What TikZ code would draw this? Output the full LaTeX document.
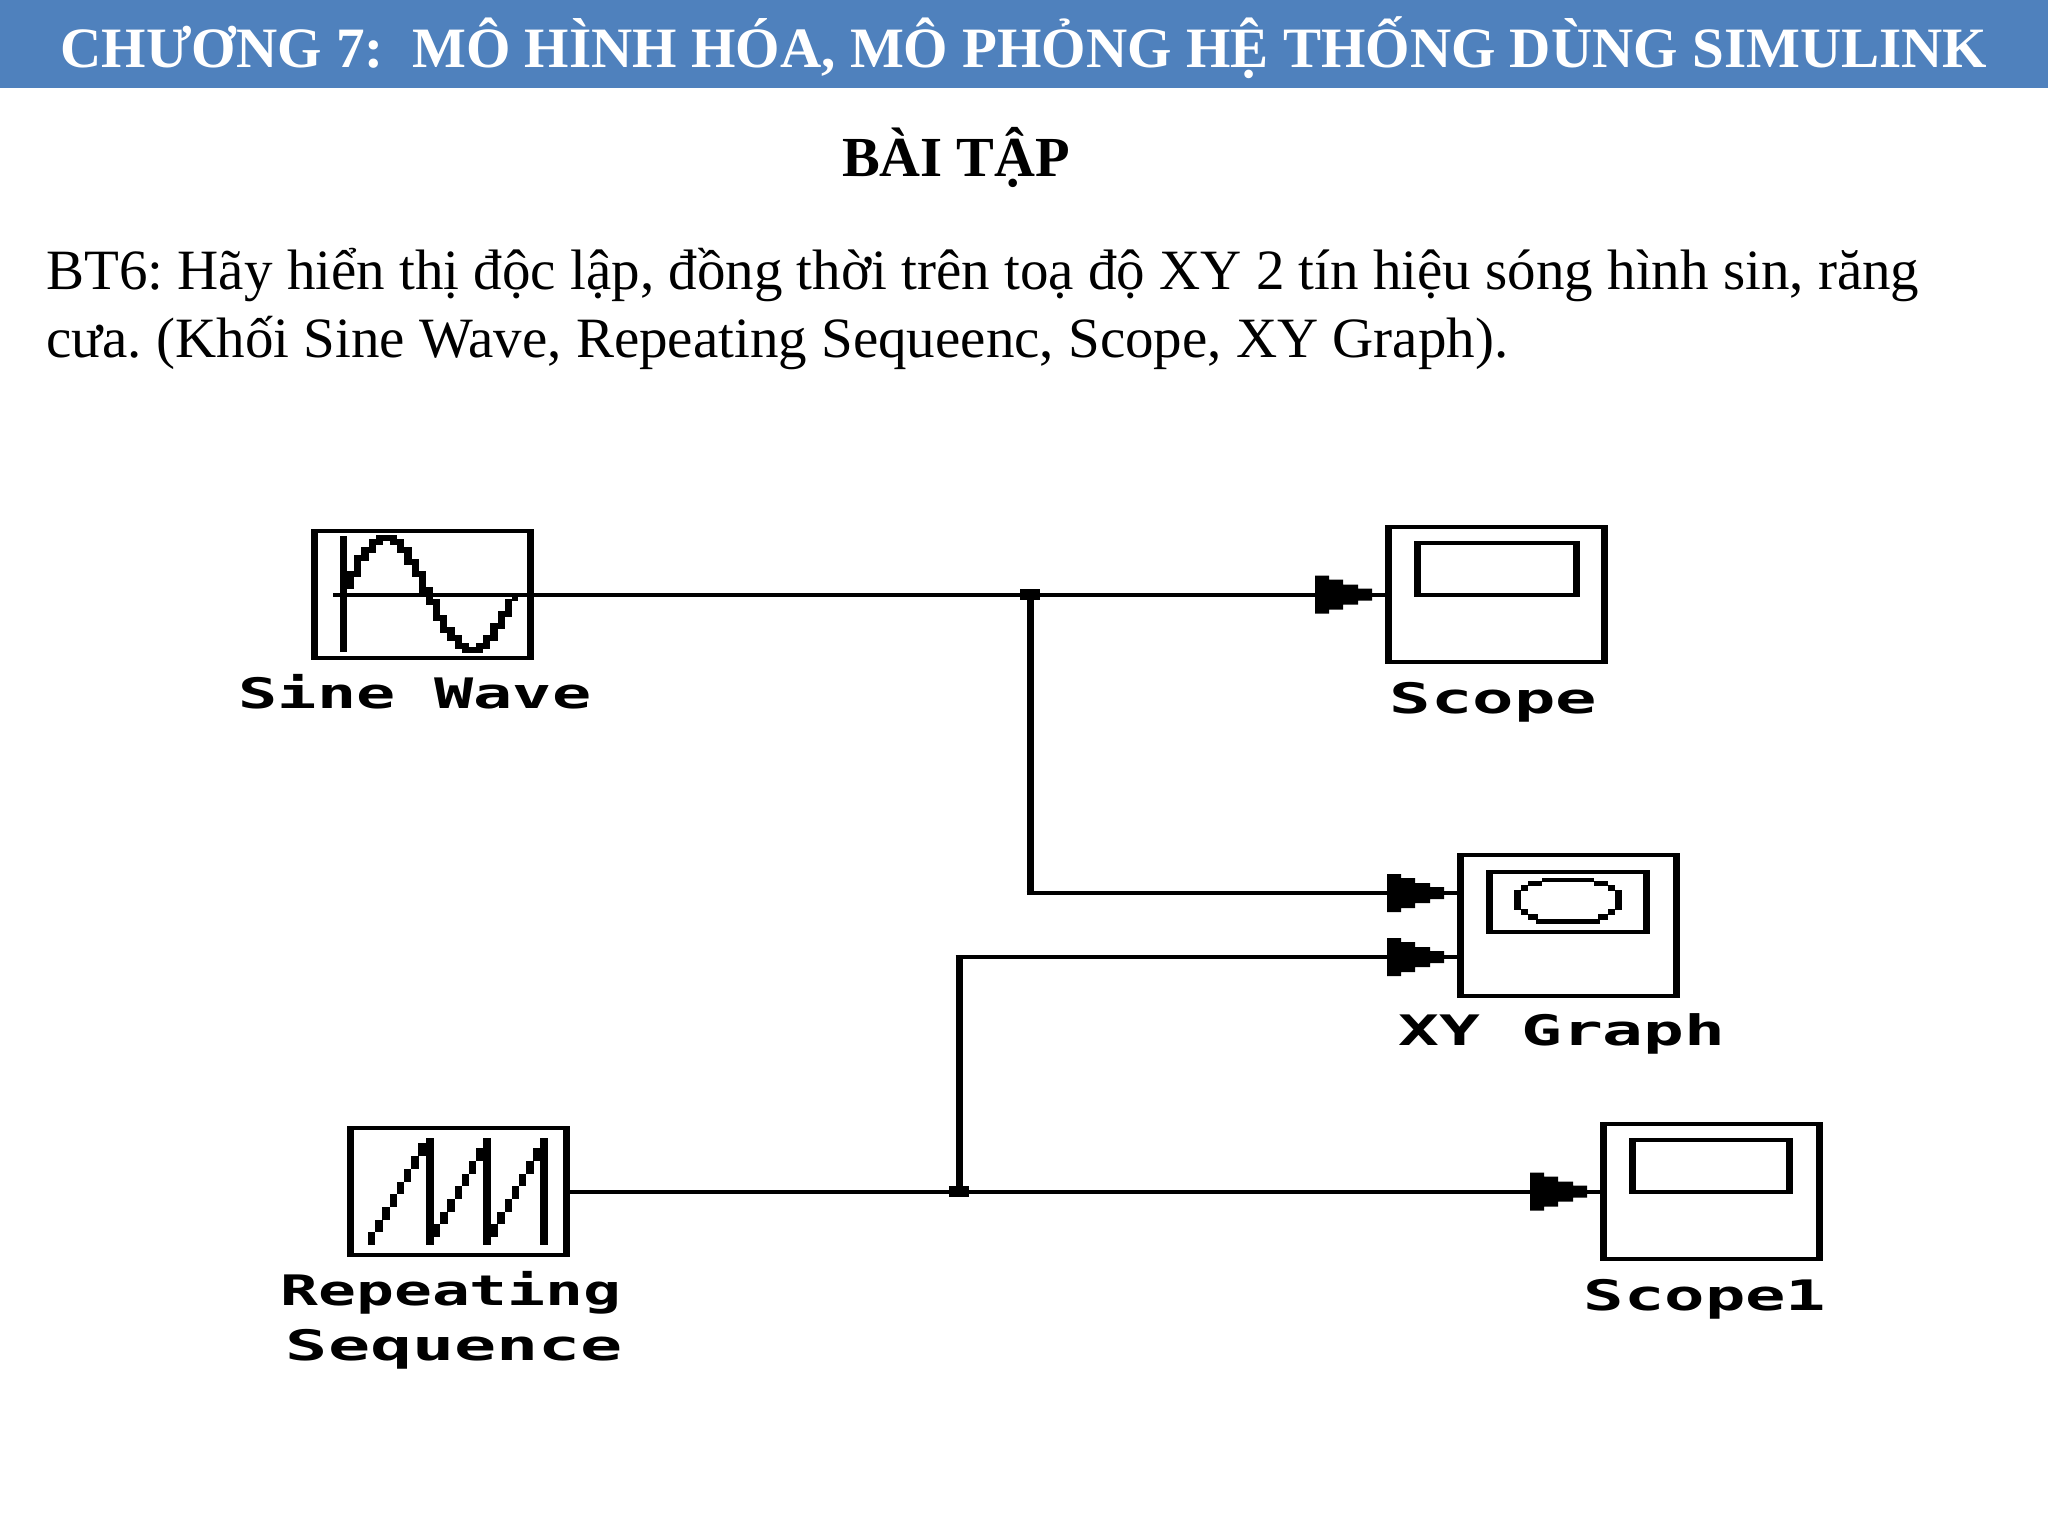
\documentclass[tikz,border=0pt]{standalone}
\usepackage{fontspec}
\setmainfont{Liberation Serif}
\newfontfamily\pixfont{DejaVu Sans Mono}
\tikzset{
  x=0.5pt,y=-0.5pt,
  blockouter/.style={fill=black,inner sep=0pt,outer sep=0pt,draw=none},
  blocklabel/.style={font=\pixfont\fontsize{21}{21}\selectfont\bfseries,xscale=#1,transform shape,anchor=base,inner sep=0pt,align=center},
  wire/.style={line width=2pt,black},
  fatwire/.style={line width=3.5pt,black},
  junction/.style={fill=black,inner sep=0pt,outer sep=0pt,minimum width=10pt,minimum height=5.5pt},
  stairhead/.pic={
    \fill[black] (-72,-19) -- (-58,-19) -- (-58,-15) -- (-44,-15) -- (-44,-10) -- (-29,-10) -- (-29,-6) -- (-15,-6)
      -- (-15,6) -- (-29,6) -- (-29,10) -- (-44,10) -- (-44,15) -- (-58,15) -- (-58,19) -- (-72,19) -- cycle;
  },
}
% block: name, x1,y1,x2,y2 in reference pixels
\newcommand{\blk}[5]{%
  \pgfmathsetmacro{\bw}{(#4-#2)/2}\pgfmathsetmacro{\bh}{(#5-#3)/2}%
  \node[blockouter,minimum width=\bw pt,minimum height=\bh pt] (#1) at ({(#2+#4)/2},{(#3+#5)/2}) {};
  \fill[white] ({#2+7},{#3+4}) rectangle ({#4-7},{#5-4});
}
% screen inside a scope
\newcommand{\scr}[4]{%
  \fill[black] (#1,#2) rectangle (#3,#4);
  \fill[white] ({#1+7},{#2+4}) rectangle ({#3-7},{#4-4});
}
\newcommand{\rx}[4]{\fill[black] (#1,#2) rectangle (#3,#4);}
\begin{document}
\frenchspacing
\begin{tikzpicture}
\useasboundingbox (0,0) rectangle (2048,1536);
\fill[white] (0,0) rectangle (2048,1536);
% header
\fill[fill={rgb,255:red,79;green,129;blue,189}] (0,0) rectangle (2048,88);
\node[anchor=base,text=white,inner sep=0pt,font=\fontsize{28.55}{28.55}\selectfont\bfseries] (title) at (1024,67.5) {CHƯƠNG 7:\ \ MÔ HÌNH HÓA, MÔ PHỎNG HỆ THỐNG DÙNG SIMULINK};
\node[anchor=base,inner sep=0pt,font=\fontsize{28.3}{28.3}\selectfont\bfseries] (sub) at (956,176.5) {BÀI TẬP};
\node[anchor=base west,inner sep=0pt,font=\fontsize{28.5}{28.5}\selectfont] (l1) at (46,289) {BT6: Hãy hiển thị độc lập, đồng thời trên toạ độ XY 2 tín hiệu sóng hình sin, răng};
\node[anchor=base west,inner sep=0pt,font=\fontsize{28.5}{28.5}\selectfont] (l2) at (46,357) {cưa. (Khối Sine Wave, Repeating Sequeenc, Scope, XY Graph).};

% blocks
\blk{sine}{311}{529}{534}{660}
\blk{scope}{1385}{525}{1608}{664}
\blk{xy}{1457}{853}{1680}{998}
\blk{rep}{347}{1126}{570}{1257}
\blk{scopeone}{1600}{1122}{1823}{1261}

% screens
\scr{1414}{541}{1580}{597}
\scr{1486}{870}{1650}{934}
\scr{1629}{1138}{1793}{1194}

% sine icon
\rx{340}{536}{347}{652}
\foreach \i in {0,...,22}{
  \pgfmathsetmacro{\xa}{347+7.17*\i}
  \pgfmathsetmacro{\xb}{\xa+7.17}
  \pgfmathsetmacro{\ya}{594.5-56*sin((\xa-343)/172*360)}
  \pgfmathsetmacro{\yb}{594.5-56*sin((\xb-343)/172*360)}
  \pgfmathsetmacro{\yt}{floor(min(\ya,\yb)/4)*4-1}
  \pgfmathsetmacro{\yc}{ceil(max(\ya,\yb)/4)*4+1}
  \fill[black] (\xa,\yt) rectangle (\xb,\yc);
}
\rx{512}{596}{518}{601}
\draw[wire] (333,594.5) -- (sine.east);

% sawtooth icon
\foreach \bx in {426,483.2,540.4}{ \rx{\bx}{1138}{\bx+7.5}{1245} }
\foreach \i in {0,...,7}{
  \fill[black] ({368+7.2*\i},{1245-12.7*\i-12.7}) rectangle ({368+7.4+7.2*\i},{1245-12.7*\i});
}
\foreach \ox in {433,490.2}{
  \foreach \i in {0,...,6}{
    \fill[black] ({\ox+7.2*\i},{1237-12.7*\i-12.7}) rectangle ({\ox+7.4+7.2*\i},{1237-12.7*\i});
  }
}

% xy oval
\foreach \sgn in {-1,1}{
  \rx{1568}{878}{1568+\sgn*26}{882}
  \rx{1568+\sgn*26}{881}{1568+\sgn*40}{886}
  \rx{1568+\sgn*40}{885}{1568+\sgn*47}{891}
  \rx{1568+\sgn*47}{890}{1568+\sgn*54}{910}
  \rx{1568+\sgn*40}{909}{1568+\sgn*47}{915}
  \rx{1568+\sgn*30}{914}{1568+\sgn*40}{920}
  \rx{1568}{919}{1568+\sgn*32}{924}
}

% junctions and ports
\node[junction] (ja) at (1030,594.5) {};
\node[junction] (jb) at (959,1191.5) {};
\coordinate (xyina) at (1459,893);
\coordinate (xyinb) at (1459,957);

% connectors
\draw[wire] (sine.east) -- (scope.west);
\draw[wire] (rep.east) -- (scopeone.west);
\draw[fatwire] (ja.center) -- (ja.center |- xyina);
\draw[wire] ([xshift=-1.75pt]ja.center |- xyina) -- (xyina);
\draw[fatwire] (jb.center) -- (jb.center |- xyinb);
\draw[wire] ([xshift=-1.75pt]jb.center |- xyinb) -- (xyinb);

% arrow heads
\pic at (1387,594.5) {stairhead};
\pic at (1602,1191.5) {stairhead};
\pic at (xyina) {stairhead};
\pic at (xyinb) {stairhead};

% labels
\node[blocklabel=1.55] (lsine) at (415,708) {Sine Wave};
\node[blocklabel=1.64] (lscope) at (1493.5,713) {Scope};
\node[blocklabel=1.615] (lxy) at (1562,1045) {XY Graph};
\node[blocklabel=1.5] (lrep) at (451,1305) {Repeating};
\node[blocklabel=1.667] (lseq) at (454.5,1360) {Sequence};
\node[blocklabel=1.6] (lscopeone) at (1705,1310) {Scope1};
\end{tikzpicture}
\end{document}
